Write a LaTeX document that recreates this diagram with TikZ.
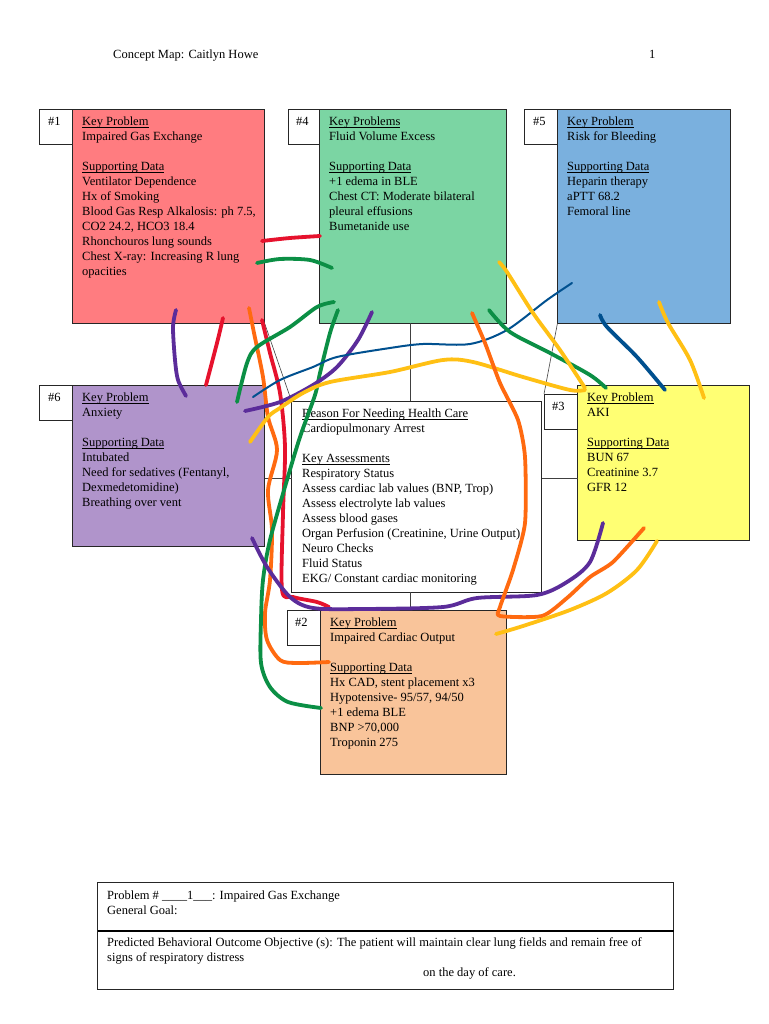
\documentclass[tikz,border=0pt]{standalone}
\usepackage{fontspec}
\setmainfont{Liberation Serif}
\usetikzlibrary{positioning}
\definecolor{probred}{RGB}{255,124,128}
\definecolor{probgreen}{RGB}{123,213,163}
\definecolor{probblue}{RGB}{122,176,222}
\definecolor{probpurple}{RGB}{176,148,203}
\definecolor{probyellow}{RGB}{255,255,115}
\definecolor{probpeach}{RGB}{249,196,154}
\definecolor{inkred}{RGB}{230,18,45}
\definecolor{inkgreen}{RGB}{11,143,69}
\definecolor{inkorange}{RGB}{255,106,16}
\definecolor{inkpurple}{RGB}{91,44,154}
\definecolor{inkyellow}{RGB}{255,192,20}
\definecolor{inkblue}{RGB}{0,80,143}
\tikzset{
    box/.style={draw=black!85, line width=0.8pt, anchor=north west, inner sep=0pt, outer sep=0pt},
    numtag/.style={box, fill=white, minimum width=34, minimum height=35},
    words/.style={anchor=north west, inner sep=0pt, align=left, font=\fontsize{12.5}{15}\selectfont},
    ink/.style={line width=3.8pt, line cap=round, line join=round},
    thinline/.style={draw=black!75, line width=0.6pt}
}
\newcommand{\ul}[1]{\setbox0\hbox{#1}\rlap{\vrule height -1.3pt depth 1.9pt width \wd0}\box0}

\begin{document}
\begin{tikzpicture}[x=1pt, y=-1pt]
    \useasboundingbox (0,0) rectangle (768,1024);
    \fill[white] (0,0) rectangle (768,1024);

    % Page header
    \node[words] (head) at (113,50) {Concept Map: Caitlyn Howe};
    \node[words] (pagenum) at (649,50) {1};

    % Number tags
    \node[numtag] (tag1) at (39,109) {};
    \node[numtag] (tag4) at (288,109) {};
    \node[numtag] (tag5) at (524,109) {};
    \node[numtag] (tag6) at (39,385) {};
    \node[numtag] (tag3) at (544,394) {};
    \node[numtag] (tag2) at (287,610) {};
    \node[words] (num1) at (48,117) {\#1};
    \node[words] (num4) at (296,117) {\#4};
    \node[words] (num5) at (533,117) {\#5};
    \node[words] (num6) at (48,393) {\#6};
    \node[words] (num3) at (552,402) {\#3};
    \node[words] (num2) at (295,618) {\#2};

    % Problem boxes
    \node[box, fill=probred, minimum width=192, minimum height=214] (prob1) at (72.5,109) {};
    \node[box, fill=probgreen, minimum width=187, minimum height=214] (prob4) at (319.5,109) {};
    \node[box, fill=probblue, minimum width=173, minimum height=214] (prob5) at (557.5,109) {};
    \node[box, fill=probpurple, minimum width=192, minimum height=161] (prob6) at (72.5,385) {};
    \node[box, fill=white, minimum width=250, minimum height=191] (reason) at (291.5,401) {};
    \node[box, fill=probyellow, minimum width=172, minimum height=155] (prob3) at (577.5,385) {};
    \node[box, fill=probpeach, minimum width=186, minimum height=164] (prob2) at (320.5,610) {};

    % Thin links
    \coordinate (midrow) at (0,478);
    \coordinate (linkfour) at (410,323);
    \coordinate (linkcentre) at (410,592);
    \draw[thinline] (prob1.south east) -- (reason.north west);
    \draw[thinline] (linkfour) -- (linkfour |- reason.north);
    \draw[thinline] (prob5.south west) -- (tag3.north west);
    \draw[thinline] (prob6.east |- midrow) -- (reason.west |- midrow);
    \draw[thinline] (reason.east |- midrow) -- (prob3.west |- midrow);
    \draw[thinline] (linkcentre) -- (linkcentre |- prob2.north);

    % Box texts
    \node[words] (text1) at (82,117) {\ul{Key Problem}\\Impaired Gas Exchange\\[15pt]\ul{Supporting Data}\\Ventilator Dependence\\Hx of Smoking\\Blood Gas Resp Alkalosis: ph 7.5,\\CO2 24.2, HCO3 18.4\\Rhonchouros lung sounds\\Chest X-ray: Increasing R lung\\opacities};
    \node[words] (text4) at (329,117) {\ul{Key Problems}\\Fluid Volume Excess\\[15pt]\ul{Supporting Data}\\+1 edema in BLE\\Chest CT: Moderate bilateral\\pleural effusions\\Bumetanide use};
    \node[words] (text5) at (567,117) {\ul{Key Problem}\\Risk for Bleeding\\[15pt]\ul{Supporting Data}\\Heparin therapy\\aPTT 68.2\\Femoral line};
    \node[words] (text6) at (82,393) {\ul{Key Problem}\\Anxiety\\[15pt]\ul{Supporting Data}\\Intubated\\Need for sedatives (Fentanyl,\\Dexmedetomidine)\\Breathing over vent};
    \node[words] (textreason) at (302,409) {\ul{Reason For Needing Health Care}\\Cardiopulmonary Arrest\\[15pt]\ul{Key Assessments}\\Respiratory Status\\Assess cardiac lab values (BNP, Trop)\\Assess electrolyte lab values\\Assess blood gases\\Organ Perfusion (Creatinine, Urine Output)\\Neuro Checks\\Fluid Status\\EKG/ Constant cardiac monitoring};
    \node[words] (text3) at (587,393) {\ul{Key Problem}\\AKI\\[15pt]\ul{Supporting Data}\\BUN 67\\Creatinine 3.7\\GFR 12};
    \node[words] (text2) at (330,618) {\ul{Key Problem}\\Impaired Cardiac Output\\[15pt]\ul{Supporting Data}\\Hx CAD, stent placement x3\\Hypotensive- 95/57, 94/50\\+1 edema BLE\\BNP >70,000\\Troponin 275};

    % Hand drawn strokes
    \draw[ink, inkpurple] plot[smooth] coordinates {(176,310) (173,327) (175,360) (178,380) (186,396)};
    \draw[ink, inkred] plot[smooth] coordinates {(223,318) (217,343) (206,385)};
    \draw[ink, inkred] plot[smooth] coordinates {(262,241) (290,238) (320,236)};
    \draw[ink, inkgreen] plot[smooth] coordinates {(257,263) (280,259) (310,260) (332,268)};
    \draw[ink, inkred] plot[smooth] coordinates {(262,320) (270,353) (280,393) (285,447) (283,513) (282,590) (293,597) (317,602) (329,607)};
    \draw[ink, inkorange] plot[smooth] coordinates {(249,308) (254,333) (263,377) (268,417) (277,450) (268,490) (272,530) (270,580) (265,613) (267,640) (280,660) (297,663) (329,662)};
    \draw[ink, inkgreen] plot[smooth] coordinates {(334,302) (317,307) (290,327) (257,347) (247,363) (237,402)};
    \draw[ink, inkgreen] plot[smooth] coordinates {(338,310) (330,333) (320,373) (315,395) (300,437) (287,480) (270,540) (263,580) (261,620) (261,663) (270,687) (288,702) (321,708)};
    \draw[ink, inkpurple] plot[smooth] coordinates {(372,312) (358,340) (337,367) (313,385) (280,402) (245,411)};
    \draw[ink, inkblue, line width=2pt] plot[smooth] coordinates {(572,283) (547,300) (507,330) (470,344) (423,344) (390,348) (337,357) (313,367) (280,380) (253,397)};
    \draw[ink, inkyellow] plot[smooth] coordinates {(585,390) (570,390) (523,377) (473,362) (443,360) (390,372) (330,382) (303,393) (280,408) (268,417) (250,442)};
    \draw[ink, inkpurple] plot[smooth] coordinates {(252,538) (267,567) (290,597) (313,608) (363,609) (443,607) (477,598) (537,595) (567,582) (590,562) (603,523)};
    \draw[ink, inkorange] plot[smooth, tension=0.4] coordinates {(644,528) (613,562) (590,577) (567,598) (542,616) (500,616) (500,607) (513,570) (525,523) (525,457) (518,420) (500,383) (485,343) (472,313)};
    \draw[ink, inkyellow] plot[smooth] coordinates {(657,541) (637,570) (607,593) (570,610) (523,626) (496,634)};
    \draw[ink, inkgreen] plot[smooth] coordinates {(489,310) (510,332) (550,353) (590,375) (606,388)};
    \draw[ink, inkyellow] plot[smooth] coordinates {(499,262) (507,272) (533,313) (560,350) (585,388)};
    \draw[ink, inkblue] plot[smooth] coordinates {(600,315) (607,327) (637,357) (665,390)};
    \draw[ink, inkyellow] plot[smooth] coordinates {(659,302) (668,323) (690,360) (704,398)};

    % Goal table
    \node[box, minimum width=576, minimum height=107] (goal) at (97.5,882) {};
    \coordinate (goalrow) at (0,931);
    \draw[line width=1.2pt] (goal.west |- goalrow) -- (goal.east |- goalrow);
    \node[words] (goaltext) at (107,890.5) {Problem \# \_\_\_\_1\_\_\_: Impaired Gas Exchange\\General Goal:};
    \node[words] (outcome) at (107,937.5) {Predicted Behavioral Outcome Objective (s):  The patient will maintain clear lung fields and remain free of\\signs of respiratory distress};
    \node[words] (dayof) at (423,967.5) {on the day of care.};
\end{tikzpicture}
\end{document}
